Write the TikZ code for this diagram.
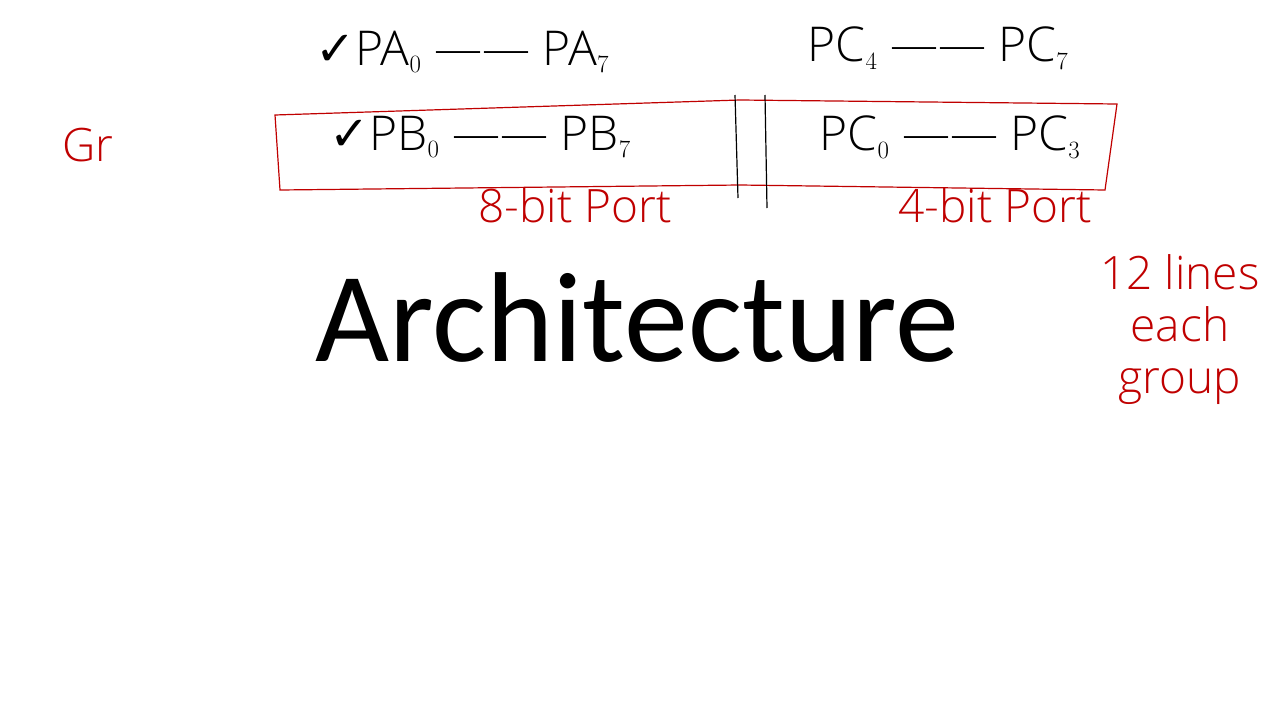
\documentclass[tikz,border=0pt]{standalone}
\usepackage{fontspec}
\setmainfont{Carlito}
\newfontfamily\hand{Open Sans Light}[Scale=1]
\newfontfamily\sym{DejaVu Sans}
\definecolor{ink}{RGB}{192,0,0}
\begin{document}
\begin{tikzpicture}[x=1pt,y=-1pt,
  blk/.style={font=\hand\fontsize{48}{52}\selectfont,text=black,inner sep=0},
  red/.style={font=\hand\fontsize{46}{52}\selectfont,text=ink,inner sep=0}]
\useasboundingbox[fill=white] (0,0) rectangle (1280,720);
\node[blk] (pa) at (462,52) {{\sym ✓}PA$_0$ —— PA$_7$};
\node[blk] (pc47) at (938,48) {PC$_4$ —— PC$_7$};
\node[blk] (pb) at (480,137) {{\sym ✓}PB$_0$ —— PB$_7$};
\node[blk] (pc03) at (950,137) {PC$_0$ —— PC$_3$};
\draw[ink,line width=1.2pt] (275,115) -- (740,100) -- (1117,104) -- (1105,190) -- (740,185) -- (280,190) -- cycle;
\coordinate (v1t) at (735,95); \coordinate (v1b) at (738,198);
\coordinate (v2t) at (765,95); \coordinate (v2b) at (767,208);
\draw[black,line width=1.2pt] (v1t) -- (v1b);
\draw[black,line width=1.2pt] (v2t) -- (v2b);
\node[red] (p8) at (575,205) {8-bit Port};
\node[red] (p4) at (995,205) {4-bit Port};
\node[red,align=center] (lines) at (1180,330) {12 lines\\each\\group};
\node[red] (gr) at (88,145) {Gr};
\node[font=\fontsize{128}{138}\selectfont,inner sep=0] (arch) at (637,318) {Architecture};
\end{tikzpicture}
\end{document}
